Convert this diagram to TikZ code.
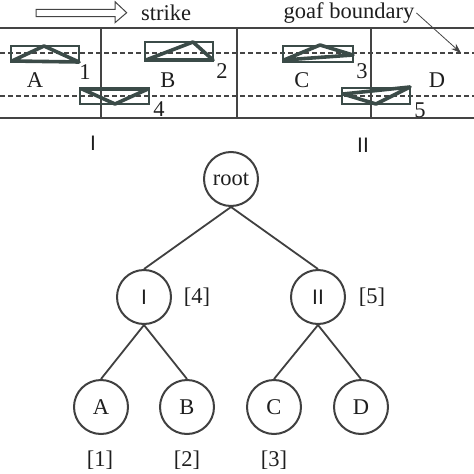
\documentclass[tikz,border=0pt]{standalone}
\usepackage{fontspec}
\setmainfont{Liberation Serif}
\setsansfont{Liberation Sans}
\usetikzlibrary{arrows.meta}
\definecolor{linegray}{HTML}{444444}
\definecolor{tri}{HTML}{3B4B48}
\definecolor{ink}{HTML}{1E1E1E}
\begin{document}
\begin{tikzpicture}[x=1pt,y=-1pt,
  lbl/.style={text=ink,inner sep=0pt,font=\fontsize{22.5}{26}\selectfont},
  roman/.style={text=ink,inner sep=0pt,font=\sffamily\fontsize{21}{24}\selectfont},
  road/.style={draw=linegray,line width=2.2pt},
  divider/.style={draw=linegray,line width=1.1pt},
  dashline/.style={draw=linegray,line width=1.8pt,dash pattern=on 5pt off 3pt},
  box/.style={draw=tri,line width=1.4pt},
  wedge/.style={draw=tri,line width=3.6pt,line join=round,line cap=round},
  tnode/.style={circle,draw=ink!85,line width=2pt,minimum size=54pt,inner sep=0pt,text=ink,font=\fontsize{22.5}{26}\selectfont},
  tedge/.style={draw=ink!85,line width=1.8pt}]
\useasboundingbox (0,0) rectangle (474,474);
% panel
\draw[road] (0,28) -- (474,28);
\draw[road] (0,118) -- (474,118);
\draw[divider] (101,28) -- (101,118);
\draw[divider] (237,28) -- (237,118);
\draw[divider] (371,28) -- (371,118);
\draw[dashline] (0,53) -- (474,53);
\draw[dashline] (0,96) -- (474,96);
% strike arrow
\draw[draw=linegray,line width=1pt,fill=white] (36,9.3) -- (115,9.3) -- (115,1.7) -- (126.7,12.7) -- (115,22.7) -- (115,16.7) -- (36,16.7) -- cycle;
\node[lbl] (strike) at (166,13) {strike};
\node[lbl] (goaf) at (349,13) {goaf boundary};
\coordinate (goafend) at (461,53);
\draw[draw=linegray,line width=0.8pt,-{Stealth[length=10pt,width=7pt]}] (goaf.east) ++(2,0) -- (goafend);
% boxes and wedges
\draw[box] (11,46) rectangle (79,62);
\draw[wedge] (12,61) -- (44,46) -- (79,62) -- cycle;
\draw[box] (145,42) rectangle (213,61);
\draw[wedge] (146,60) -- (193,42) -- (213,60) -- cycle;
\draw[box] (80,88) rectangle (149,104);
\draw[wedge] (82,89) -- (148,89) -- (115,104) -- cycle;
\draw[box] (283,46) rectangle (353,62);
\draw[wedge] (284,60) -- (320,45) -- (353,55) -- cycle;
\draw[box] (342,88) rectangle (410,104);
\draw[wedge] (343,94) -- (410,87) -- (376,104) -- cycle;
% panel labels
\node[lbl] (pA) at (35,80) {A};
\node[lbl] (pB) at (168,80) {B};
\node[lbl] (pC) at (302,80) {C};
\node[lbl] (pD) at (437,80) {D};
\node[lbl] (p1) at (85,72) {1};
\node[lbl] (p2) at (222,71) {2};
\node[lbl] (p3) at (362,71) {3};
\node[lbl] (p4) at (159,109) {4};
\node[lbl] (p5) at (420,110) {5};
\node[roman] (pI) at (93,143) {I};
\node[roman] (pII) at (363,145) {II};
% tree
\node[tnode] (root) at (231,179) {root};
\node[tnode,font=\sffamily\fontsize{21}{24}\selectfont] (I) at (144,297) {I};
\node[tnode,font=\sffamily\fontsize{21}{24}\selectfont] (II) at (318,297) {II};
\node[tnode] (A) at (101,407) {A};
\node[tnode] (B) at (187,407) {B};
\node[tnode] (C) at (274,407) {C};
\node[tnode] (D) at (361,407) {D};
\draw[tedge] (root.south) -- (I.north);
\draw[tedge] (root.south) -- (II.north);
\draw[tedge] (I.south) -- (A.north);
\draw[tedge] (I.south) -- (B.north);
\draw[tedge] (II.south) -- (C.north);
\draw[tedge] (II.south) -- (D.north);
\node[lbl] (l4) at (197,297) {[4]};
\node[lbl] (l5) at (372,297) {[5]};
\node[lbl] (l1) at (100,460) {[1]};
\node[lbl] (l2) at (187,460) {[2]};
\node[lbl] (l3) at (274,460) {[3]};
\end{tikzpicture}
\end{document}
